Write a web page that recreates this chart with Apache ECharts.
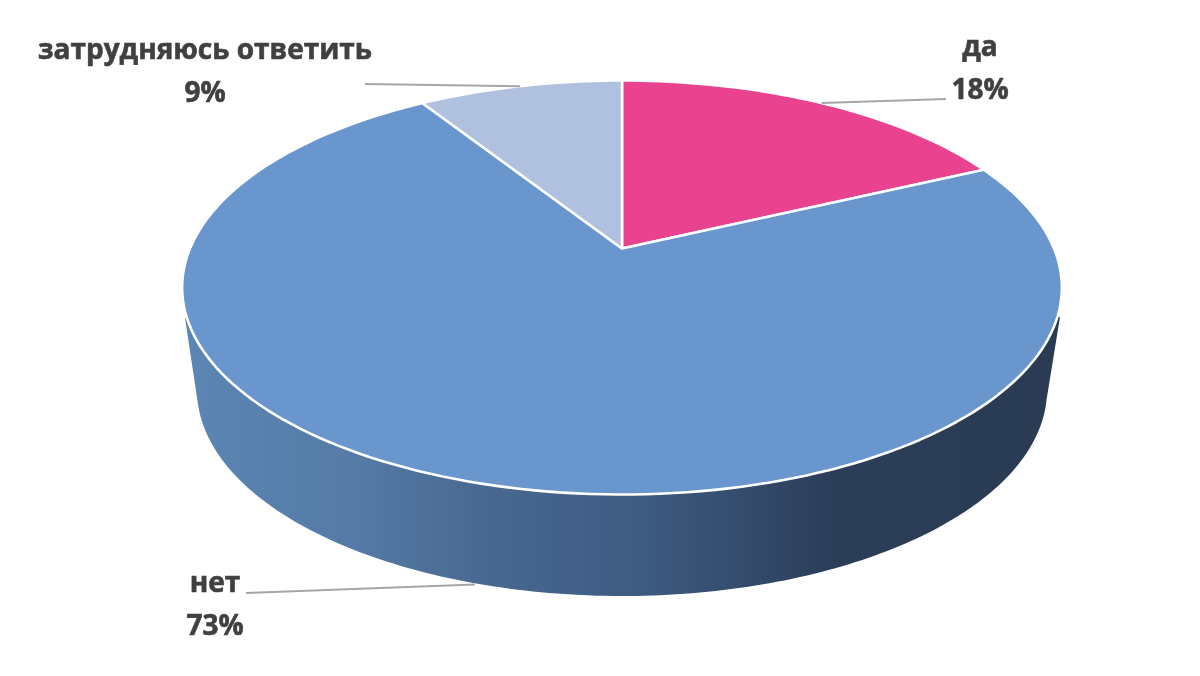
<!DOCTYPE html>
<html>
<head>
<meta charset="utf-8">
<style>html,body{margin:0;padding:0;background:#fff}#c{width:1200px;height:676px}</style>
<script src="https://cdn.jsdelivr.net/npm/echarts@6/dist/echarts.min.js"></script>
</head>
<body>
<div id="c"></div>
<script>
var categories = ['да', 'нет', 'затрудняюсь ответить'];
var values = [18, 73, 9];
var percentLabels = ['18%', '73%', '9%'];
var sliceColors = ['#E9438F', '#6A96CE', '#AFC1DE'];

// perspective disc geometry
var apexX = 622, apexY = 248.5, scaleX = 432, scaleY = 199.65, persp = 0.1884;
var depth = 102;
var ellipseTop = {cx: 622, cy: 287, rx: 439, ry: 207};
var ellipseBottom = {cx: 622, cy: 390, rx: 425, ry: 206};

// label layout: text centre x, name y, percent y, elbow of the leader line, whether the line meets the wall
var labelLayout = [
  {x: 980, y1: 48, y2: 91, ex: 946, ey: 99, wall: false},
  {x: 215, y1: 584, y2: 627, ex: 246, ey: 593, wall: true},
  {x: 205, y1: 51, y2: 94, ex: 365, ey: 84, wall: false}
];

var total = values.reduce(function (a, b) { return a + b; }, 0);
function project(theta) {
  var X = Math.sin(theta), Y = Math.cos(theta), w = 1 + persp * Y;
  return [apexX + scaleX * X / w, apexY - scaleY * Y / w];
}
function sliceAngles(i) {
  var s = 0;
  for (var k = 0; k < i; k++) s += values[k];
  return [s / total * 2 * Math.PI, (s + values[i]) / total * 2 * Math.PI];
}
function onEllipse(e, phi) {
  return [e.cx + e.rx * Math.cos(phi), e.cy + e.ry * Math.sin(phi)];
}

var font = '700 28px "Open Sans"';
var textColor = '#404040';

function renderWall(params, api) {
  var pts = [], i, n = 160;
  // upper rim, left to right along the front of the top ellipse
  var a0 = Math.PI - 0.145, a1 = 0.145;
  pts.push([185, 318]);
  for (i = 0; i <= n; i++) pts.push(onEllipse(ellipseTop, a0 + (a1 - a0) * i / n));
  pts.push([1060, 317]);
  // lower rim, right to left
  var b0 = 0.05, b1 = Math.PI - 0.08;
  for (i = 0; i <= n; i++) pts.push(onEllipse(ellipseBottom, b0 + (b1 - b0) * i / n));
  return {
    type: 'polygon',
    shape: {points: pts},
    style: {
      fill: {
        type: 'linear', x: 183, y: 0, x2: 1061, y2: 0, global: true,
        colorStops: [
          {offset: 0, color: '#5C86B4'},
          {offset: 0.2, color: '#557AA5'},
          {offset: 0.35, color: '#476890'},
          {offset: 0.52, color: '#3E5B82'},
          {offset: 0.74, color: '#2B3E59'},
          {offset: 1, color: '#2A3B53'}
        ]
      }
    }
  };
}

function renderSlice(params, api) {
  var i = params.dataIndex, ang = sliceAngles(i), pts = [[apexX, apexY]], n = 240;
  var steps = Math.max(8, Math.round(n * (ang[1] - ang[0]) / (2 * Math.PI)));
  for (var k = 0; k <= steps; k++) pts.push(project(ang[0] + (ang[1] - ang[0]) * k / steps));
  return {
    type: 'polygon',
    shape: {points: pts},
    style: {fill: api.visual('color'), stroke: '#fff', lineWidth: 2.6, lineJoin: 'round'}
  };
}

function renderLabel(params, api) {
  var i = params.dataIndex, ang = sliceAngles(i), l = labelLayout[i];
  var p = project((ang[0] + ang[1]) / 2);
  var py = p[1] + (l.wall ? depth : 0);
  var textStyle = function (t) {
    return {text: t, font: font, fill: textColor, stroke: textColor, lineWidth: 0.6, align: 'center', verticalAlign: 'middle'};
  };
  return {
    type: 'group',
    children: [
      {type: 'line', shape: {x1: p[0], y1: py, x2: l.ex, y2: l.ey},
       style: {stroke: '#A6A6A6', lineWidth: 2}},
      {type: 'text', x: l.x, y: l.y1, style: textStyle(categories[i])},
      {type: 'text', x: l.x, y: l.y2, style: textStyle(percentLabels[i])}
    ]
  };
}

var chart = echarts.init(document.getElementById('c'));
var sliceData = values.map(function (v, i) {
  return {name: categories[i], value: v, itemStyle: {color: sliceColors[i]}};
});
chart.setOption({
  backgroundColor: '#fff',
  animation: false,
  tooltip: {show: false},
  series: [
    {type: 'custom', coordinateSystem: 'none', silent: true, z: 1, renderItem: renderWall, data: [values[1]]},
    {type: 'custom', coordinateSystem: 'none', silent: true, z: 2, renderItem: renderSlice, data: sliceData},
    {type: 'custom', coordinateSystem: 'none', silent: true, z: 3, renderItem: renderLabel, data: sliceData}
  ]
});
</script>
</body>
</html>
